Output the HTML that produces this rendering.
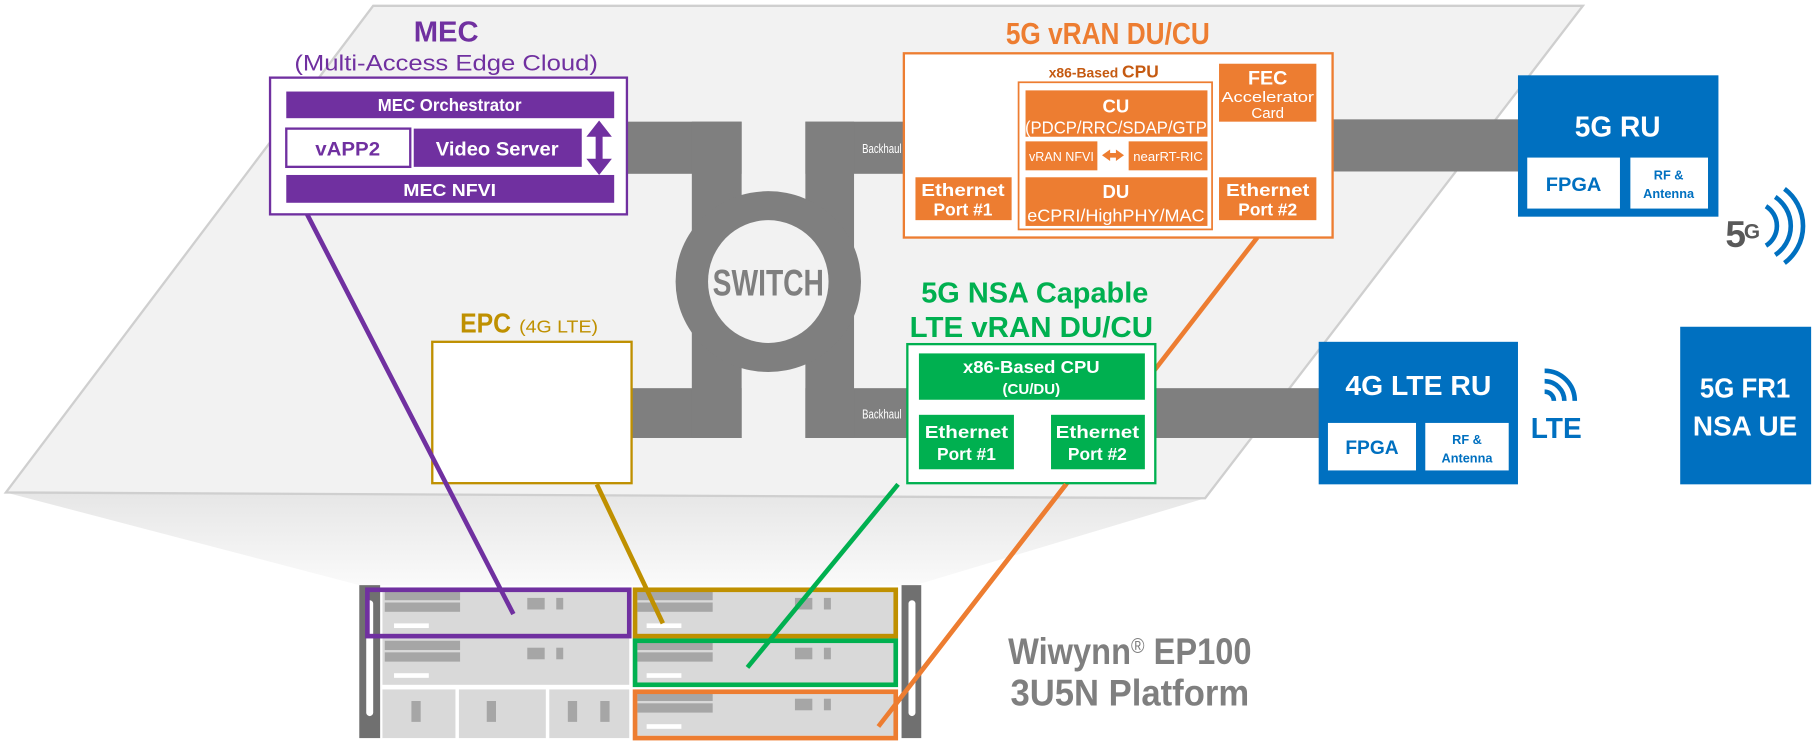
<!DOCTYPE html>
<html><head><meta charset="utf-8"><style>html,body{margin:0;padding:0;background:#fff}svg{display:block}text{font-family:"Liberation Sans",sans-serif}</style></head>
<body>
<svg width="1817" height="752" viewBox="0 0 1568 649" xmlns="http://www.w3.org/2000/svg">
<defs>
<linearGradient id="fade" x1="0" y1="0" x2="0" y2="1"><stop offset="0" stop-color="#e6e6e6"/><stop offset="1" stop-color="#fafafa"/></linearGradient>
</defs>
<polygon points="5,425 1040,430 790,505 310,505" fill="url(#fade)"/>
<polygon points="322,5 1366,5 1040,430 5,425" fill="#f2f2f2" stroke="#cfcfcf" stroke-width="2"/>
<!-- switch -->
<g fill="#7f7f7f">
<rect x="540" y="105" width="100" height="45"/>
<rect x="545" y="335" width="95" height="43"/>
<rect x="695" y="105" width="90" height="45"/>
<rect x="695" y="335" width="95" height="43"/>
<rect x="597" y="105" width="43" height="273"/>
<rect x="695" y="105" width="42" height="273"/>
<rect x="1150" y="103" width="165" height="45"/>
<rect x="990" y="335" width="150" height="43"/>
<ellipse cx="663" cy="243" rx="80" ry="78"/>
</g>
<ellipse cx="663" cy="243" rx="52" ry="53" fill="#f2f2f2"/>
<text x="663" y="255" font-size="32" font-weight="bold" fill="#7f7f7f" text-anchor="middle" textLength="96" lengthAdjust="spacingAndGlyphs">SWITCH</text>
<text x="744" y="132" font-size="11" fill="#fff" textLength="34" lengthAdjust="spacingAndGlyphs">Backhaul</text>
<text x="744" y="361" font-size="11" fill="#fff" textLength="34" lengthAdjust="spacingAndGlyphs">Backhaul</text>
<!-- connectors behind boxes -->
<line x1="1085" y1="205" x2="758" y2="627" stroke="#ed7d31" stroke-width="4"/>
<!-- MEC -->
<text x="385" y="36" font-size="25" font-weight="bold" fill="#7030a0" text-anchor="middle" textLength="56" lengthAdjust="spacingAndGlyphs">MEC</text>
<text x="385" y="61" font-size="19" fill="#7030a0" text-anchor="middle" textLength="262" lengthAdjust="spacingAndGlyphs">(Multi-Access Edge Cloud)</text>
<rect x="233" y="67" width="308" height="118" fill="#fff" stroke="#7030a0" stroke-width="2"/>
<rect x="247" y="79" width="283" height="23" fill="#7030a0"/>
<text x="388" y="96" font-size="15" font-weight="bold" fill="#fff" text-anchor="middle" textLength="124" lengthAdjust="spacingAndGlyphs">MEC Orchestrator</text>
<rect x="247" y="111" width="107" height="33" fill="#fff" stroke="#7030a0" stroke-width="2"/>
<text x="300" y="134" font-size="17" font-weight="bold" fill="#7030a0" text-anchor="middle" textLength="56" lengthAdjust="spacingAndGlyphs">vAPP2</text>
<rect x="357" y="111" width="145" height="33" fill="#7030a0"/>
<text x="429" y="134" font-size="17" font-weight="bold" fill="#fff" text-anchor="middle" textLength="106" lengthAdjust="spacingAndGlyphs">Video Server</text>
<polygon points="517,104 528,118 520,118 520,137 528,137 517,151 506,137 514,137 514,118 506,118" fill="#7030a0"/>
<rect x="247" y="151" width="283" height="24" fill="#7030a0"/>
<text x="388" y="169" font-size="15" font-weight="bold" fill="#fff" text-anchor="middle" textLength="80" lengthAdjust="spacingAndGlyphs">MEC NFVI</text>
<!-- EPC -->
<text x="397" y="287" font-size="24" font-weight="bold" fill="#bf9000" textLength="44" lengthAdjust="spacingAndGlyphs">EPC</text>
<text x="448" y="287" font-size="15" fill="#bf9000" textLength="68" lengthAdjust="spacingAndGlyphs">(4G LTE)</text>
<rect x="373" y="295" width="172" height="122" fill="#fff" stroke="#bf9000" stroke-width="2"/>
<!-- 5G vRAN -->
<text x="956" y="38" font-size="26" font-weight="bold" fill="#ed7d31" text-anchor="middle" textLength="176" lengthAdjust="spacingAndGlyphs">5G vRAN DU/CU</text>
<rect x="780" y="46" width="370" height="159" fill="#fff" stroke="#ed7d31" stroke-width="2"/>
<text x="905" y="67" font-size="12" font-weight="bold" fill="#c55a11">x86-Based <tspan font-size="15">CPU</tspan></text>
<rect x="879" y="71" width="167" height="127" fill="#fff" stroke="#ed7d31" stroke-width="1.5"/>
<rect x="885" y="78" width="157" height="40" fill="#ed7d31"/>
<text x="963" y="97" font-size="16" font-weight="bold" fill="#fff" text-anchor="middle">CU</text>
<text x="963" y="115" font-size="15" fill="#fff" text-anchor="middle" textLength="157" lengthAdjust="spacingAndGlyphs">(PDCP/RRC/SDAP/GTP</text>
<rect x="885" y="122" width="62" height="25" fill="#ed7d31"/>
<text x="916" y="139" font-size="11" fill="#fff" text-anchor="middle" textLength="56" lengthAdjust="spacingAndGlyphs">vRAN NFVI</text>
<rect x="974" y="122" width="68" height="25" fill="#ed7d31"/>
<text x="1008" y="139" font-size="11" fill="#fff" text-anchor="middle" textLength="60" lengthAdjust="spacingAndGlyphs">nearRT-RIC</text>
<polygon points="951,134 958,129 958,132 963,132 963,129 970,134 963,139 963,136 958,136 958,139" fill="#ed7d31"/>
<rect x="885" y="153" width="157" height="42" fill="#ed7d31"/>
<text x="963" y="171" font-size="16" font-weight="bold" fill="#fff" text-anchor="middle">DU</text>
<text x="963" y="191" font-size="15" fill="#fff" text-anchor="middle" textLength="153" lengthAdjust="spacingAndGlyphs">eCPRI/HighPHY/MAC</text>
<rect x="790" y="153" width="83" height="37" fill="#ed7d31"/>
<text x="831" y="169" font-size="15" font-weight="bold" fill="#fff" text-anchor="middle" textLength="72" lengthAdjust="spacingAndGlyphs">Ethernet</text>
<text x="831" y="186" font-size="15" font-weight="bold" fill="#fff" text-anchor="middle">Port #1</text>
<rect x="1052" y="55" width="84" height="50" fill="#ed7d31"/>
<text x="1094" y="73" font-size="17" font-weight="bold" fill="#fff" text-anchor="middle">FEC</text>
<text x="1094" y="88" font-size="13" fill="#fff" text-anchor="middle" textLength="80" lengthAdjust="spacingAndGlyphs">Accelerator</text>
<text x="1094" y="102" font-size="13" fill="#fff" text-anchor="middle">Card</text>
<rect x="1052" y="153" width="84" height="37" fill="#ed7d31"/>
<text x="1094" y="169" font-size="15" font-weight="bold" fill="#fff" text-anchor="middle" textLength="72" lengthAdjust="spacingAndGlyphs">Ethernet</text>
<text x="1094" y="186" font-size="15" font-weight="bold" fill="#fff" text-anchor="middle">Port #2</text>
<!-- NSA -->
<text x="893" y="261" font-size="25" font-weight="bold" fill="#00b050" text-anchor="middle" textLength="196" lengthAdjust="spacingAndGlyphs">5G NSA Capable</text>
<text x="890" y="291" font-size="25" font-weight="bold" fill="#00b050" text-anchor="middle" textLength="210" lengthAdjust="spacingAndGlyphs">LTE vRAN DU/CU</text>
<rect x="783" y="297" width="214" height="120" fill="#fff" stroke="#00b050" stroke-width="2"/>
<rect x="793" y="305" width="195" height="40" fill="#00b050"/>
<text x="890" y="322" font-size="15" font-weight="bold" fill="#fff" text-anchor="middle" textLength="118" lengthAdjust="spacingAndGlyphs">x86-Based CPU</text>
<text x="890" y="340" font-size="13" font-weight="bold" fill="#fff" text-anchor="middle">(CU/DU)</text>
<rect x="793" y="358" width="82" height="47" fill="#00b050"/>
<text x="834" y="378" font-size="15" font-weight="bold" fill="#fff" text-anchor="middle" textLength="72" lengthAdjust="spacingAndGlyphs">Ethernet</text>
<text x="834" y="397" font-size="15" font-weight="bold" fill="#fff" text-anchor="middle">Port #1</text>
<rect x="907" y="358" width="81" height="47" fill="#00b050"/>
<text x="947" y="378" font-size="15" font-weight="bold" fill="#fff" text-anchor="middle" textLength="72" lengthAdjust="spacingAndGlyphs">Ethernet</text>
<text x="947" y="397" font-size="15" font-weight="bold" fill="#fff" text-anchor="middle">Port #2</text>
<!-- 5G RU -->
<rect x="1310" y="65" width="173" height="122" fill="#0070c0"/>
<text x="1396" y="118" font-size="25" font-weight="bold" fill="#fff" text-anchor="middle" textLength="74" lengthAdjust="spacingAndGlyphs">5G RU</text>
<rect x="1318" y="136" width="80" height="44" fill="#fff"/>
<text x="1358" y="165" font-size="17" font-weight="bold" fill="#0070c0" text-anchor="middle" textLength="48" lengthAdjust="spacingAndGlyphs">FPGA</text>
<rect x="1407" y="136" width="67" height="44" fill="#fff"/>
<text x="1440" y="155" font-size="11" font-weight="bold" fill="#0070c0" text-anchor="middle">RF &amp;</text>
<text x="1440" y="171" font-size="11" font-weight="bold" fill="#0070c0" text-anchor="middle">Antenna</text>
<text x="1489" y="213" font-size="32" font-weight="bold" fill="#595959">5</text>
<text x="1505" y="206" font-size="18" font-weight="bold" fill="#595959">G</text>
<g fill="none" stroke="#0070c0" stroke-width="4">
<path d="M1524,178 A20,20 0 0 1 1524,212"/>
<path d="M1532,170 A30,30 0 0 1 1532,220"/>
<path d="M1540,163 A40,40 0 0 1 1540,227"/>
</g>
<!-- 4G LTE RU -->
<rect x="1138" y="295" width="172" height="123" fill="#0070c0"/>
<text x="1224" y="341" font-size="24" font-weight="bold" fill="#fff" text-anchor="middle" textLength="126" lengthAdjust="spacingAndGlyphs">4G LTE RU</text>
<rect x="1146" y="365" width="76" height="41" fill="#fff"/>
<text x="1184" y="392" font-size="17" font-weight="bold" fill="#0070c0" text-anchor="middle" textLength="46" lengthAdjust="spacingAndGlyphs">FPGA</text>
<rect x="1230" y="365" width="72" height="41" fill="#fff"/>
<text x="1266" y="383" font-size="11" font-weight="bold" fill="#0070c0" text-anchor="middle">RF &amp;</text>
<text x="1266" y="399" font-size="11" font-weight="bold" fill="#0070c0" text-anchor="middle">Antenna</text>
<g fill="none" stroke="#0070c0" stroke-width="4">
<path d="M1333,338 A8,8 0 0 1 1341,346"/>
<path d="M1333,329 A17,17 0 0 1 1350,346"/>
<path d="M1333,320 A26,26 0 0 1 1359,346"/>
</g>
<text x="1343" y="378" font-size="25" font-weight="bold" fill="#0070c0" text-anchor="middle" textLength="44" lengthAdjust="spacingAndGlyphs">LTE</text>
<!-- UE -->
<rect x="1450" y="282" width="113" height="136" fill="#0070c0"/>
<text x="1506" y="343" font-size="24" font-weight="bold" fill="#fff" text-anchor="middle" textLength="78" lengthAdjust="spacingAndGlyphs">5G FR1</text>
<text x="1506" y="376" font-size="24" font-weight="bold" fill="#fff" text-anchor="middle" textLength="90" lengthAdjust="spacingAndGlyphs">NSA UE</text>
<!-- server -->
<rect x="310" y="505" width="18" height="132" fill="#707070"/>
<rect x="778" y="505" width="17" height="132" fill="#707070"/>
<rect x="316" y="518" width="6" height="100" rx="3" fill="#fff"/>
<rect x="784" y="518" width="6" height="100" rx="3" fill="#fff"/>
<g fill="#d9d9d9">
<rect x="330" y="508" width="213" height="40"/><rect x="548" y="508" width="225" height="40"/>
<rect x="330" y="551" width="213" height="40"/><rect x="548" y="551" width="225" height="40"/>
<rect x="330" y="595" width="63" height="42"/><rect x="396" y="595" width="75" height="42"/><rect x="474" y="595" width="69" height="42"/>
<rect x="548" y="595" width="225" height="40"/>
</g>
<g fill="#a6a6a6">
<rect x="332" y="510" width="65" height="8"/><rect x="332" y="520" width="65" height="8"/>
<rect x="550" y="510" width="65" height="8"/><rect x="550" y="520" width="65" height="8"/>
<rect x="332" y="553" width="65" height="8"/><rect x="332" y="563" width="65" height="8"/>
<rect x="550" y="553" width="65" height="8"/><rect x="550" y="563" width="65" height="8"/>
<rect x="550" y="597" width="65" height="8"/><rect x="550" y="607" width="65" height="8"/>
<rect x="455" y="516" width="15" height="10"/><rect x="480" y="516" width="6" height="10"/>
<rect x="686" y="516" width="15" height="10"/><rect x="711" y="516" width="6" height="10"/>
<rect x="455" y="559" width="15" height="10"/><rect x="480" y="559" width="6" height="10"/>
<rect x="686" y="559" width="15" height="10"/><rect x="711" y="559" width="6" height="10"/>
<rect x="686" y="603" width="15" height="10"/><rect x="711" y="603" width="6" height="10"/>
<rect x="420" y="605" width="8" height="18"/><rect x="355" y="605" width="8" height="18"/>
<rect x="490" y="605" width="8" height="18"/><rect x="518" y="605" width="8" height="18"/>
</g>
<g fill="#fff">
<rect x="340" y="538" width="30" height="4"/><rect x="558" y="538" width="30" height="4"/>
<rect x="340" y="581" width="30" height="4"/><rect x="558" y="581" width="30" height="4"/>
<rect x="558" y="625" width="30" height="4"/>
</g>
<g fill="none" stroke-width="4">
<rect x="317" y="509" width="226" height="40" stroke="#7030a0"/>
<rect x="548" y="509" width="225" height="40" stroke="#bf9000"/>
<rect x="548" y="553" width="225" height="38" stroke="#00b050"/>
<rect x="548" y="597" width="225" height="40" stroke="#ed7d31"/>
</g>
<!-- connectors on top of server -->
<g stroke-width="4" fill="none">
<line x1="265" y1="185" x2="443" y2="530" stroke="#7030a0"/>
<line x1="515" y1="418" x2="572" y2="538" stroke="#bf9000"/>
<line x1="775" y1="418" x2="645" y2="576" stroke="#00b050"/>
<line x1="920" y1="418" x2="758" y2="627" stroke="#ed7d31"/>
</g>
<text x="975" y="573" font-size="32" font-weight="bold" fill="#7f7f7f" text-anchor="middle" textLength="210" lengthAdjust="spacingAndGlyphs">Wiwynn<tspan font-size="18" baseline-shift="super" font-weight="normal">®</tspan> EP100</text>
<text x="975" y="609" font-size="32" font-weight="bold" fill="#7f7f7f" text-anchor="middle" textLength="206" lengthAdjust="spacingAndGlyphs">3U5N Platform</text>
</svg>
</body></html>
